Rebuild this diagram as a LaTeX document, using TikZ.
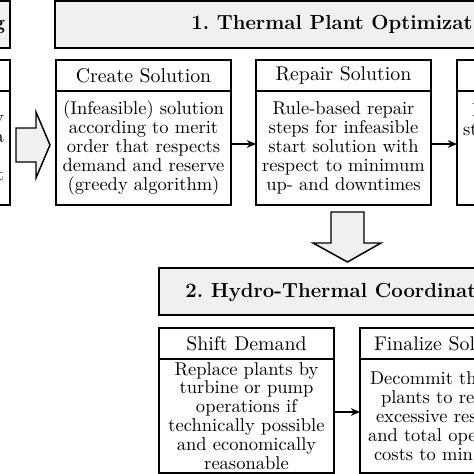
\documentclass[tikz,border=0pt]{standalone}
\usetikzlibrary{arrows.meta,positioning}
\newlength{\pxu}
\setlength{\pxu}{0.54pt}

\begin{document}
\begin{tikzpicture}[
  x=0.54pt, y=-0.54pt,
  banner/.style={draw, thick, fill=black!6, minimum width=577*\pxu,
    minimum height=47*\pxu, inner sep=0pt, outer sep=0pt},
  title/.style={font=\fontsize{11}{13}\selectfont\bfseries, inner sep=0pt},
  head/.style={draw, thick, fill=white, minimum width=175*\pxu,
    minimum height=31*\pxu, inner sep=0pt, outer sep=0pt,
    font=\fontsize{10.7}{12}\selectfont},
  body/.style={draw, thick, fill=white, minimum width=175*\pxu,
    minimum height=114*\pxu, text width=163*\pxu, inner xsep=6*\pxu,
    inner ysep=0pt, outer sep=0pt, align=center,
    font=\fontsize{10}{10.2}\selectfont},
  arr/.style={-{Stealth[length=5pt, width=4.2pt]}, semithick},
  bigarrow/.style={draw, thick, fill=black!6, line join=miter}
]
  \useasboundingbox (0,0) rectangle (474,474);
  \clip (0,0) rectangle (474,474);

  % stage banners
  \node[banner] (prep) at (-278.5,24.5) {};
  \node[title, anchor=base east] (preptitle) at (5.5,30) {g};
  \node[banner] (thermal) at (343.5,24.5) {};
  \node[title, anchor=base west] (thermaltitle) at (191,30)
    {1.\ Thermal Plant Optimizat};
  \node[banner] (hydro) at (447.5,291.5) {};
  \node[title, anchor=base west] (hydrotitle) at (185,297)
    {2.\ Hydro-Thermal Coordinat};

  % first row
  \node[head] (prephead) at (-77.5,75.5) {};
  \node[body, below=0pt of prephead, align=right] (prepbody)
    {v\hspace*{-1\pxu}\\a\hspace*{-1\pxu}\\\mbox{}\\t\hspace*{-3\pxu}};
  \node[head] (createhead) at (143.5,75.5) {Create Solution};
  \node[body, below=0pt of createhead] (createbody)
    {(Infeasible) solution\\according to merit\\order that respects\\
     demand and reserve\\(greedy algorithm)};
  \node[head] (repairhead) at (343.5,75.5) {Repair Solution};
  \node[body, below=0pt of repairhead] (repairbody)
    {Rule-based repair\\steps for infeasible\\start solution with\\
     respect to minimum\\up- and downtimes};
  \node[head] (nexthead) at (544.5,75.5) {};
  \node[body, below=0pt of nexthead, align=left] (nextbody)
    {\hspace*{9\pxu}I\\st\\\mbox{}\\\mbox{}\\\mbox{}};

  % second row
  \node[head] (shifthead) at (246.5,343.5) {Shift Demand};
  \node[body, below=0pt of shifthead] (shiftbody)
    {Replace plants by\\turbine or pump\\operations if\\
     technically possible\\and economically\\reasonable};
  \node[head, text width=163*\pxu, align=left] (finalhead) at (447.5,343.5)
    {\hspace*{8\pxu}Finalize Sol};
  \node[body, below=0pt of finalhead, align=left] (finalbody)
    {\hspace*{4\pxu}Decommit th\\\hspace*{15\pxu}plants to re\\
     \hspace*{10\pxu}excessive res\\\hspace*{2\pxu}and total ope\\
     \hspace*{8\pxu}costs to min};

  % flow
  \draw[arr] ([yshift=4\pxu]createbody.east) -- ([yshift=4\pxu]repairbody.west);
  \draw[arr] ([yshift=4\pxu]repairbody.east) -- ([yshift=4\pxu]nextbody.west);
  \draw[arr] ([yshift=4\pxu]shiftbody.east) -- ([yshift=4\pxu]finalbody.west);

  % stage arrows
  \draw[bigarrow] (16,128) -- (36,128) -- (36,112) -- (50,145) -- (36,178)
    -- (36,162) -- (16,162) -- cycle;
  \draw[bigarrow] (331,212) -- (364,212) -- (364,243) -- (381,243)
    -- (347.5,262) -- (313,243) -- (331,243) -- cycle;
\end{tikzpicture}
\end{document}
